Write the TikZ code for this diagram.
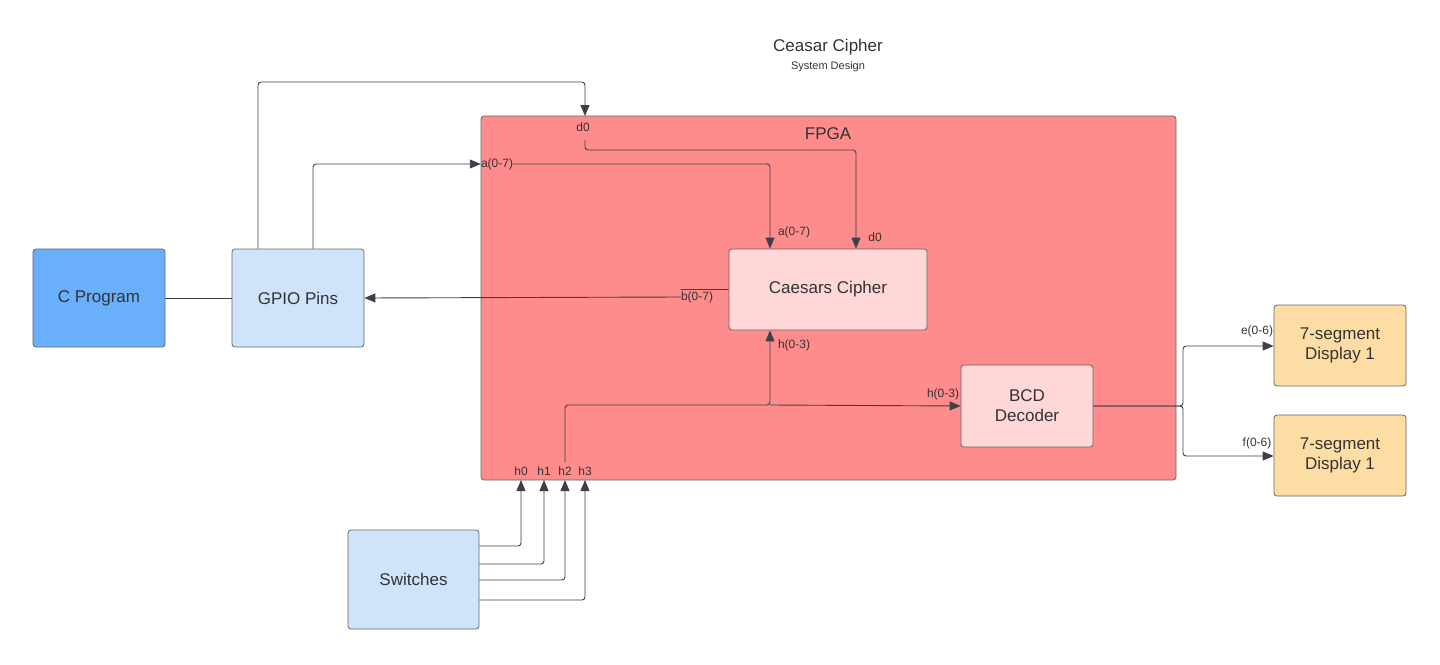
\documentclass[tikz,border=0pt]{standalone}
\usepackage{fontspec}
\setmainfont{Liberation Sans}
\usetikzlibrary{arrows.meta}
\definecolor{ln}{HTML}{3A414A}
\definecolor{tx}{HTML}{333333}
\definecolor{cblue}{HTML}{6AAFFC}
\definecolor{lblue}{HTML}{CFE3FB}
\definecolor{fpga}{HTML}{FF8C8C}
\definecolor{pink}{HTML}{FFD7D7}
\definecolor{seg}{HTML}{FEDDA4}
\begin{document}
\begin{tikzpicture}[x=1pt,y=-1pt,
 box/.style={draw=ln!80,rounded corners=3pt,line width=0.8pt,inner sep=0pt,text=tx,align=center,font=\fontsize{17}{20}\selectfont},
 lab/.style={text=tx,font=\fontsize{12}{14}\selectfont,inner sep=0pt},
 con/.style={draw=ln,line width=0.9pt,rounded corners=3pt},
 arr/.style={con,-{Triangle[length=11pt,width=9pt]}}]
\useasboundingbox (0,0) rectangle (1440,664);
\node[lab,font=\fontsize{17}{20}\selectfont] (t1) at (828,47) {Ceasar Cipher};
\node[lab,font=\fontsize{11}{13}\selectfont] (t2) at (828,67) {System Design};
\node[box,fill=fpga,minimum width=695pt,minimum height=364pt] (fpga) at (828.5,298) {};
\node[lab,font=\fontsize{17}{20}\selectfont] (fl) at (828,134) {FPGA};
\node[box,fill=cblue,minimum width=132pt,minimum height=98pt] (cp) at (99,298) {C Program};
\node[box,fill=lblue,minimum width=132pt,minimum height=98pt] (gp) at (298,298) {GPIO Pins};
\node[box,fill=pink,minimum width=198pt,minimum height=81pt] (cc) at (828,289.5) {Caesars Cipher};
\node[box,fill=pink,minimum width=132pt,minimum height=82pt] (bcd) at (1027,406) {BCD\\Decoder};
\node[box,fill=seg,minimum width=132pt,minimum height=81pt] (s1) at (1340,345.5) {7-segment\\Display 1};
\node[box,fill=seg,minimum width=132pt,minimum height=81pt] (s2) at (1340,455.5) {7-segment\\Display 1};
\node[box,fill=lblue,minimum width=131pt,minimum height=99pt] (sw) at (413.5,579.5) {Switches};
% labels
\node[lab] (ld0) at (583,127) {d0};
\node[lab] (ld0b) at (875,237) {d0};
\node[lab] (la) at (497,164) {a(0-7)};
\node[lab] (la2) at (794,232) {a(0-7)};
\node[lab] (lb) at (697,297) {b(0-7)};
\node[lab] (lh) at (794,345) {h(0-3)};
\node[lab] (lh2) at (943,394) {h(0-3)};
\node[lab] (lh0) at (521,471) {h0};
\node[lab] (lh1) at (544,471) {h1};
\node[lab] (lh2b) at (565,471) {h2};
\node[lab] (lh3) at (585,471) {h3};
\node[lab] (le) at (1257,331) {e(0-6)};
\node[lab] (lf) at (1257,443) {f(0-6)};
\coordinate (d0in) at (585,140);
\coordinate (h2in) at (565,462);
\coordinate (junc) at (770,405);
% connectors
\draw[con] (cp.east) -- (gp.west);
\draw[arr] (gp.north -| 258,0) -- (258,82) -- (585,82) -- (585,116);
\draw[arr] (d0in) -- (585,150) -- (856,150) -- (cc.north -| 856,0);
\draw[arr] (gp.north -| 313,0) -- (313,164) -- (la.west);
\draw[arr] (la.east) -- (770,164) -- (cc.north -| 770,0);
\draw[arr] (lb.west |- cc.west) -- (cc.west) (lb.west) -- (gp.east);
\draw[arr] (h2in) -- (565,405) -- (770,405) -- (cc.south -| 770,0);
\draw[arr] (junc) -- (bcd.west);
\draw[arr] (sw.east |- 0,546) -- (521,546) -- (521,480);
\draw[arr] (sw.east |- 0,564) -- (544,564) -- (544,480);
\draw[arr] (sw.east |- 0,580) -- (565,580) -- (565,480);
\draw[arr] (sw.east |- 0,600) -- (585,600) -- (585,480);
\draw[arr] (bcd.east) -- (1183,406) -- (1183,346) -- (s1.west |- 0,346);
\draw[arr] (bcd.east) -- (1183,406) -- (1183,456) -- (s2.west |- 0,456);
\end{tikzpicture}
\end{document}
